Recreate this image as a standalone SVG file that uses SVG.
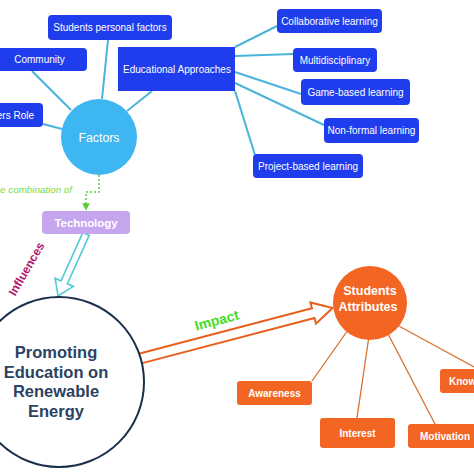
<svg xmlns="http://www.w3.org/2000/svg" width="474" height="474" viewBox="0 0 474 474">
<defs>
<style>
.blue{fill:#1f3ded;}
.bt{fill:#ffffff;font-family:"Liberation Sans",Arial,sans-serif;font-size:10px;text-anchor:middle;}
.bl{stroke:#4ab4dc;stroke-width:2;fill:none;}
.ol{stroke:#d8702e;stroke-width:1.3;fill:none;}
.orange{fill:#f26522;}
.ot{fill:#ffffff;font-family:"Liberation Sans",Arial,sans-serif;font-size:10px;font-weight:bold;text-anchor:middle;}
</style>
<marker id="ga" viewBox="0 0 6 6" refX="3" refY="3" markerWidth="5" markerHeight="5" orient="auto">
<path d="M0,0 L6,3 L0,6 z" fill="#5ccc3a"/>
</marker>
</defs>
<rect width="474" height="474" fill="#ffffff"/>
<g id="connectors">
<line class="bl" x1="102" y1="99" x2="108" y2="40"/>
<line class="bl" x1="32" y1="71" x2="71" y2="110"/>
<line class="bl" x1="43" y1="124" x2="62" y2="129"/>
<line class="bl" x1="127" y1="111" x2="152" y2="91"/>
<line class="bl" x1="235" y1="47" x2="277" y2="26"/>
<line class="bl" x1="235" y1="56" x2="293" y2="54"/>
<line class="bl" x1="235" y1="72" x2="301" y2="94"/>
<line class="bl" x1="235" y1="83" x2="324" y2="125"/>
<line class="bl" x1="235" y1="91" x2="255" y2="155"/>
<path d="M99,175 L99,192 L86,192 L86,207" fill="none" stroke="#5ccc3a" stroke-width="1.5" stroke-dasharray="2,2" marker-end="url(#ga)"/>
<polygon points="0,-3.5 53,-3.5 53,-10 68,0 53,10 53,3.5 0,3.5" transform="translate(86,234) rotate(114.3)" fill="#ffffff" stroke="#4fcad8" stroke-width="1.6"/>
<path d="M-5,-5 L177,-5 L177,-11 L197,0 L177,11 L177,5 L-5,5" transform="translate(142,358) rotate(-14.7)" fill="#ffffff" stroke="#e8601c" stroke-width="2"/>
<line class="ol" x1="348" y1="330" x2="312" y2="381"/>
<line class="ol" x1="369" y1="336" x2="357" y2="418"/>
<line class="ol" x1="387" y1="332" x2="435" y2="424"/>
<line class="ol" x1="397" y1="325" x2="474" y2="367"/>
</g>
<g id="labels">
<text x="72" y="193" font-family="Liberation Sans,Arial,sans-serif" font-size="9.8" font-style="italic" fill="#77dd44" text-anchor="end">e combination of</text>
<text transform="translate(30,271) rotate(-60)" font-family="Liberation Sans,Arial,sans-serif" font-size="12" font-weight="bold" fill="#b0156a" text-anchor="middle">Influences</text>
<text transform="translate(218,325) rotate(-15)" font-family="Liberation Sans,Arial,sans-serif" font-size="14" font-weight="bold" fill="#44dd22" text-anchor="middle">Impact</text>
</g>
<g id="students-personal-factors"><rect class="blue" x="48" y="15" width="124" height="25" rx="4"/><text class="bt" x="110" y="31">Students personal factors</text></g>
<g id="community"><rect class="blue" x="-8" y="48" width="95" height="23" rx="4"/><text class="bt" x="39.5" y="63">Community</text></g>
<g id="teachers-role"><rect class="blue" x="-10" y="103" width="53" height="24" rx="4"/><text class="bt" x="34" y="119" style="text-anchor:end">ers Role</text></g>
<g id="educational-approaches"><rect class="blue" x="118" y="47" width="117" height="44"/><text class="bt" x="177" y="72.5">Educational Approaches</text></g>
<g id="collaborative-learning"><rect class="blue" x="277" y="9" width="105" height="24" rx="4"/><text class="bt" x="329.5" y="24.5">Collaborative learning</text></g>
<g id="multidisciplinary"><rect class="blue" x="293" y="48" width="84" height="24" rx="4"/><text class="bt" x="335" y="63.5">Multidisciplinary</text></g>
<g id="game-based-learning"><rect class="blue" x="301" y="79" width="109" height="26" rx="4"/><text class="bt" x="355.5" y="95.5">Game-based learning</text></g>
<g id="non-formal-learning"><rect class="blue" x="324" y="118" width="95" height="25" rx="4"/><text class="bt" x="371.5" y="134">Non-formal learning</text></g>
<g id="project-based-learning"><rect class="blue" x="253" y="154" width="110" height="24" rx="4"/><text class="bt" x="308" y="169.5">Project-based learning</text></g>
<g id="factors"><circle cx="99" cy="137" r="38" fill="#3db6f2"/><text x="99" y="141.5" font-family="Liberation Sans,Arial,sans-serif" font-size="12.3" fill="#ffffff" text-anchor="middle">Factors</text></g>
<g id="technology"><rect x="42" y="211" width="88" height="23" rx="4" fill="#c6a5ef"/><text x="86" y="226.5" font-family="Liberation Sans,Arial,sans-serif" font-size="11.4" font-weight="bold" fill="#ffffff" text-anchor="middle">Technology</text></g>
<g id="promoting-education"><circle cx="59" cy="382" r="85" fill="#ffffff" stroke="#1b2f4b" stroke-width="2"/>
<g font-family="Liberation Sans,Arial,sans-serif" font-size="16.5" font-weight="bold" fill="#2b4262" text-anchor="middle">
<text x="56" y="358">Promoting</text><text x="56" y="377.5">Education on</text><text x="56" y="397">Renewable</text><text x="56" y="417">Energy</text></g></g>
<g id="students-attributes"><circle cx="370" cy="303" r="37" class="orange"/>
<g font-family="Liberation Sans,Arial,sans-serif" font-size="12.5" font-weight="bold" fill="#ffffff" text-anchor="middle"><text x="370" y="295">Students</text><text x="368" y="310.5">Attributes</text></g></g>
<g id="awareness"><rect class="orange" x="237" y="381" width="75" height="24" rx="3"/><text class="ot" x="274.5" y="396.5">Awareness</text></g>
<g id="interest"><rect class="orange" x="320" y="418" width="75" height="30" rx="3"/><text class="ot" x="357.5" y="436.5">Interest</text></g>
<g id="motivation"><rect class="orange" x="408" y="424" width="74" height="24" rx="3"/><text class="ot" x="445" y="439.5">Motivation</text></g>
<g id="knowledge"><rect class="orange" x="440" y="369" width="80" height="24" rx="3"/><text class="ot" x="449" y="384.5" style="text-anchor:start">Knowledge</text></g>
</svg>
